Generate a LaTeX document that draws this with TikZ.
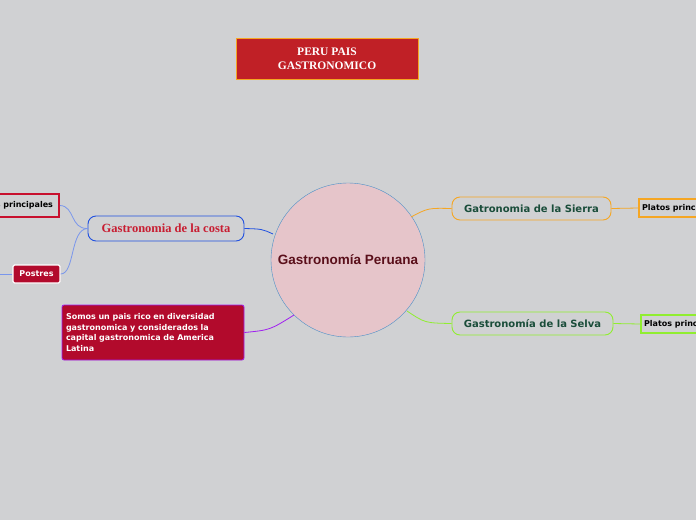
\documentclass[tikz,border=0pt]{standalone}
\usepackage{fontspec}
\setmainfont{DejaVu Sans}
\newfontfamily\serifb{Liberation Serif}
\newfontfamily\arialf{Liberation Sans}
\definecolor{bg}{HTML}{D0D1D3}
\definecolor{redf}{HTML}{B20A2C}
\definecolor{titr}{HTML}{C02026}
\definecolor{cfill}{HTML}{E6C5CA}
\definecolor{cbord}{HTML}{4A90C8}
\definecolor{dgreen}{HTML}{1A4D3A}
\definecolor{orng}{HTML}{F5A623}
\definecolor{lgrn}{HTML}{90EE30}
\definecolor{blu}{HTML}{2050E0}
\definecolor{purp}{HTML}{A020F0}
\tikzset{
 topic/.style={draw, rounded corners=8pt, fill=bg, line width=0.9pt, minimum height=24pt, font=\bfseries\fontsize{10}{12}\selectfont, text=dgreen},
 leaf/.style={draw, line width=2pt, fill=bg, minimum height=17pt, font=\bfseries\fontsize{8}{10}\selectfont, inner sep=3pt},
 conn/.style={line width=0.8pt},
}
\begin{document}
\begin{tikzpicture}[x=1pt,y=-1pt]
\fill[bg] (0,0) rectangle (696,520);
\clip (0,0) rectangle (696,520);
\useasboundingbox (0,0) rectangle (696,520);
% title
\node[draw=orng, fill=titr, text=white, minimum width=182pt, minimum height=41pt, align=center, font=\serifb\bfseries\fontsize{11.5}{14}\selectfont] (title) at (327,58.5) {PERU PAIS\\GASTRONOMICO};
% center
\node[circle, draw=cbord, fill=cfill, minimum size=154pt, font=\arialf\bfseries\fontsize{13.5}{15}\selectfont, text={rgb,255:red,90;green,15;blue,26}, inner sep=0pt] (c) at (348,260) {Gastronomía Peruana};
% costa
\node[topic, draw=blu, minimum width=156pt, minimum height=25pt, text={rgb,255:red,200;green,30;blue,50}, font=\serifb\bfseries\fontsize{12.5}{14}\selectfont] (costa) at (166,228.5) {Gastronomia de la costa};
\node[leaf, draw={rgb,255:red,200;green,16;blue,46}, text=black, anchor=east, minimum height=23pt, inner xsep=6pt] (pp1) at (60,205.5) {Platos principales};
\node[draw=white, line width=1.2pt, fill=redf, text=white, font=\bfseries\fontsize{8}{10}\selectfont, minimum height=18pt, minimum width=47pt, rounded corners=1.5pt] (post) at (36.5,274) {Postres};
\coordinate (pl) at (0,274);
\node[draw=purp, fill=redf, text=white, rounded corners=2pt, line width=0.8pt, minimum width=182pt, minimum height=55pt, text width=174pt, align=left, font=\bfseries\fontsize{8}{10.8}\selectfont, inner sep=4pt] (somos) at (153,332.5) {Somos un pais rico en diversidad\\gastronomica y considerados la\\capital gastronomica de America\\Latina};
% sierra / selva
\node[topic, draw=orng, minimum width=159pt, minimum height=23pt] (sierra) at (531.5,208.5) {Gatronomia de la Sierra};
\node[leaf, draw=orng, text=black, anchor=west, minimum height=18pt] (pp2) at (638,208) {Platos principales};
\node[topic, draw=lgrn, minimum width=161pt, minimum height=23pt] (selva) at (532.5,323.5) {Gastronomía de la Selva};
\node[leaf, draw=lgrn, text=black, anchor=west, minimum height=18pt] (pp3) at (640,324) {Platos principales};
% connectors
\draw[conn, orng] (411,217) .. controls (428,208) .. (sierra.west);
\draw[conn, orng] (sierra.east) -- (pp2.west);
\draw[conn, lgrn] (407,311) .. controls (425,323) .. (selva.west);
\draw[conn, lgrn] (selva.east) -- (pp3.west);
\draw[conn, blu] (costa.east) .. controls (262,229) .. (273,234);
\draw[conn, blu!60] (costa.west) .. controls (70,229) and (75,206) .. (pp1.east);
\draw[conn, blu!60] (costa.west) .. controls (70,229) and (75,274) .. (post.east);
\draw[conn, blu!60] (post.west) -- (pl);
\draw[conn, purp] (somos.east) .. controls (270,330) .. (294,315);
\end{tikzpicture}
\end{document}
